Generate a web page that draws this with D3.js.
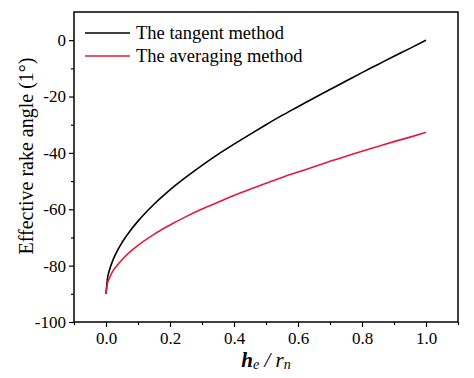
<!DOCTYPE html>
<html>
<head>
<meta charset="utf-8">
<script src="https://cdn.jsdelivr.net/npm/d3@7"></script>
<style>
  body { margin: 0; background: #fff; }
  svg text { font-family: "Liberation Serif", "Times New Roman", serif; }
</style>
</head>
<body>
<div id="chart"></div>
<script>
// data
let ratio = [0, 0.005, 0.01, 0.02, 0.03, 0.05, 0.075, 0.1, 0.15, 0.2, 0.25, 0.3, 0.35, 0.4, 0.45,
  0.5, 0.55, 0.6, 0.65, 0.7, 0.75, 0.8, 0.85, 0.9, 0.95, 1.0];
let tangent = [-90, -84.3, -81.9, -78.5, -75.9, -71.8, -67.7, -64.2, -58.2, -53.1, -48.6, -44.4, -40.5, -36.9, -33.4,
  -30.0, -26.7, -23.6, -20.5, -17.5, -14.5, -11.5, -8.6, -5.7, -2.9, 0];
let averaging = [-90, -86.1, -84.6, -82.2, -80.6, -77.9, -75.1, -72.8, -68.9, -65.6, -62.6, -59.9, -57.5, -55.1, -52.9,
  -50.8, -48.7, -46.8, -44.9, -43.0, -41.2, -39.4, -37.7, -36.0, -34.4, -32.7];
let xTicks = [0.0, 0.2, 0.4, 0.6, 0.8, 1.0];
let xMinorTicks = [-0.1, 0.1, 0.3, 0.5, 0.7, 0.9, 1.1];
let yTicks = [0, -20, -40, -60, -80, -100];
let yMinorTicks = [-90, -70, -50, -30, -10];
let seriesNames = ["The tangent method", "The averaging method"];
let seriesColors = ["#000000", "#e41a3c"];

// set the dimensions and margins of the graph
let margin = { top: 12, right: 16, bottom: 56, left: 74 },
  width = 474 - margin.left - margin.right,
  height = 378 - margin.top - margin.bottom;

let svg = d3.select("#chart")
  .append("svg")
  .attr("width", 474)
  .attr("height", 378)
  .append("g")
  .attr("transform", "translate(" + margin.left + "," + margin.top + ")");

let x = d3.scaleLinear().domain([-0.1, 1.1]).range([0, width]);
let y = d3.scaleLinear().domain([-100, 10]).range([height, 0]);

// minor ticks first
svg.append("g")
  .attr("transform", "translate(0," + height + ")")
  .call(d3.axisBottom(x).tickValues(xMinorTicks).tickSize(3).tickFormat(""))
  .call(g => g.select(".domain").remove())
  .selectAll("line").attr("stroke-width", 1.2);
svg.append("g")
  .call(d3.axisLeft(y).tickValues(yMinorTicks).tickSize(3).tickFormat(""))
  .call(g => g.select(".domain").remove())
  .selectAll("line").attr("stroke-width", 1.2);

// X axis
let xAxis = svg.append("g")
  .attr("transform", "translate(0," + height + ")")
  .call(d3.axisBottom(x).tickValues(xTicks).tickSize(5).tickPadding(5).tickFormat(d => d.toFixed(1)));
xAxis.select(".domain").remove();
xAxis.selectAll("line").attr("stroke-width", 1.2);
xAxis.selectAll("text").attr("font-size", 17).attr("fill", "#000")
  .attr("font-family", "Liberation Serif");

// Y axis
let yAxis = svg.append("g")
  .call(d3.axisLeft(y).tickValues(yTicks).tickSize(5).tickPadding(3).tickFormat(d => String(d)));
yAxis.select(".domain").remove();
yAxis.selectAll("line").attr("stroke-width", 1.2);
yAxis.selectAll("text").attr("font-size", 17).attr("fill", "#000")
  .attr("font-family", "Liberation Serif");

// frame
svg.append("rect")
  .attr("width", width)
  .attr("height", height)
  .attr("fill", "none")
  .attr("stroke", "#000")
  .attr("stroke-width", 1.5);

// lines
let line = d3.line()
  .x(function (d) { return x(d[0]); })
  .y(function (d) { return y(d[1]); })
  .curve(d3.curveMonotoneX);

[tangent, averaging].forEach(function (vals, i) {
  svg.append("path")
    .datum(ratio.map((r, j) => [r, vals[j]]))
    .attr("fill", "none")
    .attr("stroke", seriesColors[i])
    .attr("stroke-width", 1.6)
    .attr("d", line);
});

// legend
seriesNames.forEach(function (name, i) {
  let ly = 21 + i * 23;
  svg.append("line")
    .attr("x1", 11).attr("x2", 56)
    .attr("y1", ly).attr("y2", ly)
    .attr("stroke", seriesColors[i])
    .attr("stroke-width", 1.6);
  svg.append("text")
    .attr("x", 62).attr("y", ly + 6)
    .attr("font-size", 18.5)
    .text(name);
});

// axis titles
svg.append("text")
  .attr("transform", "translate(-41," + 144 + ") rotate(-90)")
  .attr("text-anchor", "middle")
  .attr("font-size", 20)
  .text("Effective rake angle (1°)");

let xt = svg.append("text")
  .attr("x", x(0.5))
  .attr("y", height + 45)
  .attr("text-anchor", "middle")
  .attr("font-size", 21)
  .attr("font-style", "italic")
  .attr("font-weight", "bold");
xt.append("tspan").text("h");
xt.append("tspan").attr("font-size", 14).attr("font-weight", "normal").attr("dy", 2).text("e");
xt.append("tspan").attr("font-weight", "normal").attr("dy", -2).text(" / r");
xt.append("tspan").attr("font-size", 14).attr("font-weight", "normal").attr("dy", 2).text("n");
</script>
</body>
</html>
